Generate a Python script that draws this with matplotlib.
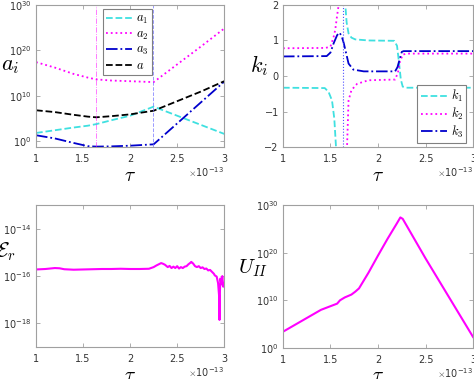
import numpy as np
import matplotlib.pyplot as plt
import matplotlib.ticker as mticker

plt.rcParams['mathtext.fontset'] = 'cm'
plt.rcParams['font.family'] = ['DejaVu Sans']

# ---- panel 1: a_i (log10 of values), tau in units of 1e-13
tau_a = [1.0, 1.2, 1.4, 1.55, 1.64, 1.8, 2.0, 2.25, 2.5, 2.75, 3.0]
log_a1 = [1.8, 2.4, 3.0, 3.4, 3.75, 4.6, 5.6, 7.6, 5.6, 3.6, 1.6]
log_a2 = [17.4, 16.2, 14.8, 14.0, 13.6, 13.35, 13.2, 13.0, 16.9, 20.8, 24.8]
log_a3 = [1.3, 0.6, -0.4, -1.1, -1.2, -1.15, -1.0, -0.7, 3.9, 8.5, 13.1]
log_a = [6.8, 6.4, 5.8, 5.4, 5.25, 5.5, 5.9, 6.7, 8.8, 10.9, 13.2]
tau_lines = [1.64, 2.24]

# ---- panel 2: k_i
tau_k1 = [1.0, 1.44, 1.48, 1.516, 1.54, 1.558, 1.58, 1.6, 1.62,
          1.64, 1.653, 1.67, 1.69, 1.72, 1.76, 1.9, 2.17, 2.2, 2.22, 2.24, 2.26, 2.3, 3.0]
k1 = [-0.33, -0.34, -0.45, -0.69, -1.2, -2.0, -3.5, -8, np.nan,
      8, 2.1, 1.5, 1.2, 1.08, 1.03, 1.0, 0.99, 0.85, 0.4, -0.1, -0.3, -0.33, -0.33]
tau_k2 = [1.0, 1.45, 1.5, 1.533, 1.55, 1.568, 1.586, 1.6, 1.615, 1.63,
          1.655, 1.674, 1.69, 1.72, 1.78, 1.9, 2.18, 2.21, 2.23, 2.26, 2.3, 3.0]
k2 = [0.78, 0.79, 0.83, 1.1, 1.3, 1.67, 2.0, 3, 8, np.nan,
      -8, -2.0, -0.69, -0.4, -0.22, -0.12, -0.1, 0.1, 0.4, 0.6, 0.63, 0.63]
tau_k3 = [1.0, 1.46, 1.5, 1.533, 1.57, 1.596, 1.62, 1.64, 1.69, 1.74, 1.85,
          2.18, 2.205, 2.23, 2.25, 2.27, 3.0]
k3 = [0.55, 0.56, 0.66, 0.92, 1.15, 1.22, 1.1, 0.92, 0.35, 0.18, 0.13,
      0.13, 0.25, 0.49, 0.68, 0.7, 0.7]
tau_kline = 1.63

# ---- panel 3: relative error (log10)
tau_e = [1.0, 1.1, 1.2, 1.25, 1.3, 1.4, 1.5, 1.6, 1.7, 1.8, 1.9, 2.0, 2.1, 2.2,
         2.25, 2.28, 2.31, 2.33, 2.35, 2.37, 2.4, 2.42, 2.44, 2.46, 2.48, 2.5,
         2.52, 2.54, 2.56, 2.58, 2.6, 2.62, 2.64, 2.65, 2.67, 2.69, 2.71, 2.73,
         2.75, 2.77, 2.79, 2.81, 2.83, 2.85, 2.87, 2.89, 2.9, 2.92, 2.935, 2.945,
         2.95, 2.955, 2.96, 2.97, 2.98, 2.99, 3.0]
log_e = [-15.72, -15.70, -15.66, -15.67, -15.71, -15.73, -15.72, -15.71, -15.70,
         -15.70, -15.69, -15.70, -15.70, -15.69,
         -15.62, -15.55, -15.49, -15.45, -15.48, -15.52, -15.62, -15.57, -15.66,
         -15.60, -15.66, -15.58, -15.68, -15.62, -15.66, -15.60, -15.58, -15.50,
         -15.44, -15.40, -15.47, -15.58, -15.62, -15.58, -15.66, -15.63, -15.70,
         -15.68, -15.76, -15.74, -15.82, -15.90, -15.97, -16.02, -16.3, -16.8,
         -17.85, -16.6, -16.1, -16.35, -16.0, -16.45, -16.3]

# ---- panel 4: U_II (log10)
tau_u = [1.0, 1.2, 1.4, 1.57, 1.6, 1.65, 1.72, 1.76, 1.8, 1.9, 2.0, 2.1, 2.2,
         2.235, 2.26, 2.5, 2.7, 2.9, 3.0]
log_u = [3.4, 5.7, 8.0, 9.3, 10.0, 10.6, 11.2, 11.8, 12.5, 15.8, 19.4, 22.9, 26.2,
         27.4, 27.1, 18.8, 12.2, 5.6, 2.3]

cyan = '#3fe0e0'
magenta = '#ff00ff'
blue = '#0000cc'
box = '#a0a0a0'
txt = '#333333'
xt = [1, 1.5, 2, 2.5, 3]


def style(ax, xlab_y=-0.13):
    ax.tick_params(direction='in', top=True, right=True, length=3, width=0.6,
                   color=box, labelcolor=txt, labelsize=7, pad=3)
    ax.tick_params(axis='x', pad=5)
    for s in ax.spines.values():
        s.set_color(box)
        s.set_linewidth(0.8)
    ax.set_xlim(1, 3)
    ax.set_xticks(xt)
    ax.set_xticklabels(['1', '1.5', '2', '2.5', '3'])
    ax.set_xlabel(r'$\tau$', fontsize=14, labelpad=0)
    ax.xaxis.set_label_coords(0.5, xlab_y)
    ax.text(1.0, -0.175, r'$\times\mathdefault{10^{-13}}$', transform=ax.transAxes,
            ha='right', va='center', fontsize=7, color=txt)


def logaxis(ax, ticks):
    ax.set_yscale('log')
    ax.yaxis.set_major_locator(mticker.FixedLocator(ticks))
    ax.yaxis.set_major_formatter(mticker.LogFormatterMathtext())
    ax.yaxis.set_minor_locator(mticker.NullLocator())


def legend(ax, **kw):
    leg = ax.legend(fontsize=9, fancybox=False, framealpha=1, edgecolor='#808080',
                    handlelength=2.1, borderpad=0.25, labelspacing=0.12,
                    handletextpad=0.3, borderaxespad=0, **kw)
    leg.get_frame().set_linewidth(0.8)


fig = plt.figure(figsize=(4.74, 3.79), dpi=100)
ax1 = fig.add_axes([0.076, 0.612, 0.397, 0.375])
ax2 = fig.add_axes([0.597, 0.612, 0.401, 0.375])
ax3 = fig.add_axes([0.076, 0.084, 0.397, 0.375])
ax4 = fig.add_axes([0.597, 0.082, 0.401, 0.377])

# panel 1
lw = 1.3
ax1.plot(tau_a, 10.0 ** np.array(log_a1), '--', color=cyan, lw=lw, label='$a_1$')
ax1.plot(tau_a, 10.0 ** np.array(log_a2), ':', color=magenta, lw=lw, label='$a_2$')
ax1.plot(tau_a, 10.0 ** np.array(log_a3), '-.', color=blue, lw=lw, label='$a_3$')
ax1.plot(tau_a, 10.0 ** np.array(log_a), '--', color='k', lw=lw, label='$a$')
ax1.axvline(tau_lines[0], color=magenta, ls='-.', lw=0.6, alpha=0.6)
ax1.axvline(tau_lines[1], color='#7070ff', ls='--', lw=0.7, alpha=0.7)
logaxis(ax1, [1e0, 1e10, 1e20, 1e30])
ax1.set_ylim(10 ** -1.3, 1e30)
style(ax1)
ax1.set_ylabel('$a_i$', fontsize=16, rotation=0, va='center', ha='center')
ax1.yaxis.set_label_coords(-0.135, 0.57)
legend(ax1, loc='upper left', bbox_to_anchor=(0.356, 0.972))

# panel 2
ax2.plot(tau_k1, k1, '--', color=cyan, lw=lw, label='$k_1$')
ax2.plot(tau_k2, k2, ':', color=magenta, lw=lw, label='$k_2$')
ax2.plot(tau_k3, k3, '-.', color=blue, lw=lw, label='$k_3$')
ax2.axvline(tau_kline, color='#5050ff', ls=':', lw=0.8)
ax2.set_ylim(-2, 2)
ax2.set_yticks([-2, -1, 0, 1, 2])
style(ax2)
ax2.set_ylabel('$k_i$', fontsize=16, rotation=0, va='center', ha='center')
ax2.yaxis.set_label_coords(-0.124, 0.57)
legend(ax2, loc='lower right', bbox_to_anchor=(0.963, 0.03))

# panel 3
ax3.plot(tau_e, 10.0 ** np.array(log_e), '-', color=magenta, lw=1.5)
logaxis(ax3, [1e-18, 1e-16, 1e-14])
ax3.set_ylim(1e-19, 1e-13)
style(ax3)
ax3.set_ylabel(r'$\mathcal{E}_r$', fontsize=15, rotation=0, va='center', ha='center')
ax3.yaxis.set_label_coords(-0.16, 0.67)

# panel 4
ax4.plot(tau_u, 10.0 ** np.array(log_u), '-', color=magenta, lw=1.5)
logaxis(ax4, [1e0, 1e10, 1e20, 1e30])
ax4.set_ylim(1, 1e30)
style(ax4)
ax4.set_ylabel('$U_{II}$', fontsize=15, rotation=0, va='center', ha='center')
ax4.yaxis.set_label_coords(-0.16, 0.555)

fig.savefig('out.png', dpi=100)
